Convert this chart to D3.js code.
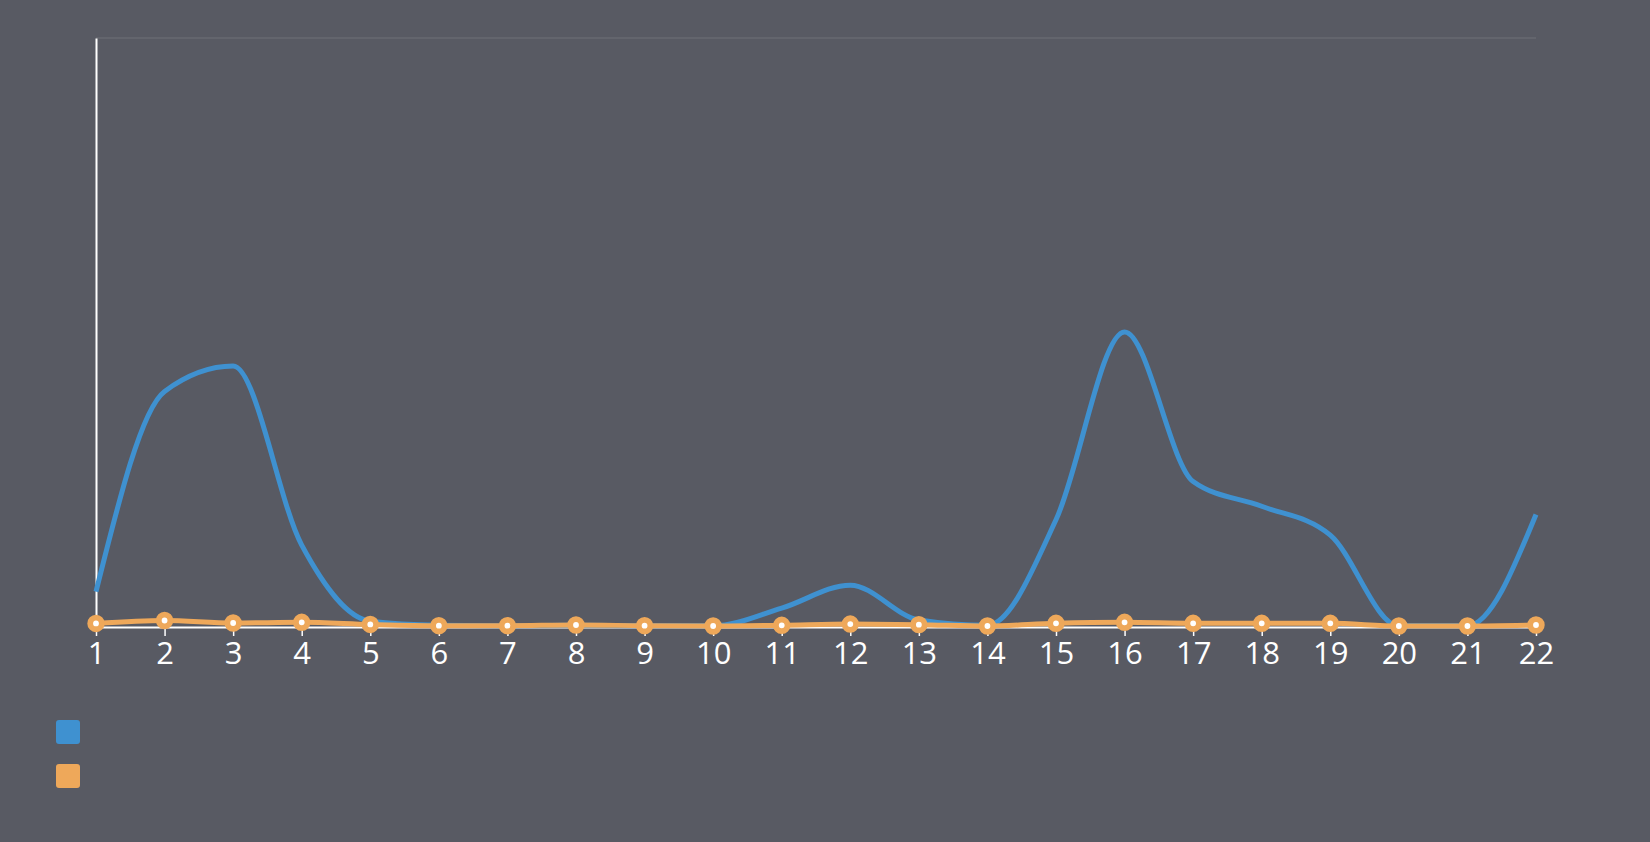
<!DOCTYPE html>
<html>
<head>
<meta charset="utf-8">
<script src="https://cdn.jsdelivr.net/npm/d3@7"></script>
<style>
  html, body { margin: 0; padding: 0; background: #585a63; }
  svg { display: block; }
</style>
</head>
<body>
<svg id="chart" width="1650" height="842"></svg>
<script>
const categories = ["1","2","3","4","5","6","7","8","9","10","11","12","13","14","15","16","17","18","19","20","21","22"];
const seriesBlue = [6.0, 40.0, 44.3, 13.9, 1.0, 0.3, 0.2, 0.3, 0.2, 0.2, 3.2, 7.1, 1.2, 0.3, 18.2, 50.1, 24.7, 20.5, 15.6, 0.2, 0.2, 19.1];
const seriesOrange = [0.6, 1.1, 0.68, 0.8, 0.43, 0.22, 0.22, 0.34, 0.22, 0.17, 0.29, 0.5, 0.4, 0.17, 0.63, 0.8, 0.63, 0.63, 0.63, 0.17, 0.17, 0.34];
const yDomain = [0, 100];
const seriesNames = ["", ""];
const colors = ["#3f91d0", "#eea85a"];

(function () {
  const svg = d3.select("#chart");
  const mLeft = 96, mRight = 1536, mTop = 38, mBottom = 627;

  const x = d3.scalePoint().domain(categories).range([mLeft, mRight]);
  const y = d3.scaleLinear().domain(yDomain).range([mBottom, mTop]);

  // top gridline
  svg.append("line")
    .attr("x1", mLeft).attr("x2", mRight)
    .attr("y1", y(yDomain[1])).attr("y2", y(yDomain[1]))
    .attr("stroke", "#63656d").attr("stroke-width", 2);

  // left axis line
  svg.append("g")
    .attr("transform", `translate(${mLeft},0)`)
    .call(d3.axisLeft(y).tickValues([]).tickSizeOuter(0))
    .call(g => g.select(".domain").attr("stroke", "#ffffff").attr("stroke-width", 2));

  // bottom axis
  const xAxis = svg.append("g")
    .attr("transform", `translate(0,${mBottom})`)
    .call(d3.axisBottom(x).tickSize(9).tickSizeOuter(0).tickPadding(6));
  xAxis.select(".domain").attr("stroke", "#ffffff").attr("stroke-width", 2);
  xAxis.selectAll(".tick line").attr("stroke", "#ffffff").attr("stroke-width", 1.5);
  xAxis.selectAll(".tick text")
    .attr("fill", "#ffffff")
    .style("font-family", "'Open Sans', sans-serif")
    .style("font-size", "31px");

  const line = d3.line()
    .x((d, i) => x(categories[i]))
    .y(d => y(d))
    .curve(d3.curveMonotoneX);

  svg.append("path")
    .datum(seriesBlue)
    .attr("d", line)
    .attr("fill", "none")
    .attr("stroke", colors[0])
    .attr("stroke-width", 5);

  svg.append("path")
    .datum(seriesOrange)
    .attr("d", line)
    .attr("fill", "none")
    .attr("stroke", colors[1])
    .attr("stroke-width", 5);

  svg.append("g").selectAll("circle")
    .data(seriesOrange)
    .join("circle")
    .attr("cx", (d, i) => x(categories[i]))
    .attr("cy", d => y(d))
    .attr("r", 5.8)
    .attr("fill", "#ffffff")
    .attr("stroke", colors[1])
    .attr("stroke-width", 5.8);

  // legend
  const legend = svg.append("g");
  seriesNames.forEach((name, i) => {
    legend.append("rect")
      .attr("x", 56).attr("y", 720 + i * 44)
      .attr("width", 24).attr("height", 24)
      .attr("rx", 3).attr("ry", 3)
      .attr("fill", colors[i]);
  });
})();
</script>
</body>
</html>
